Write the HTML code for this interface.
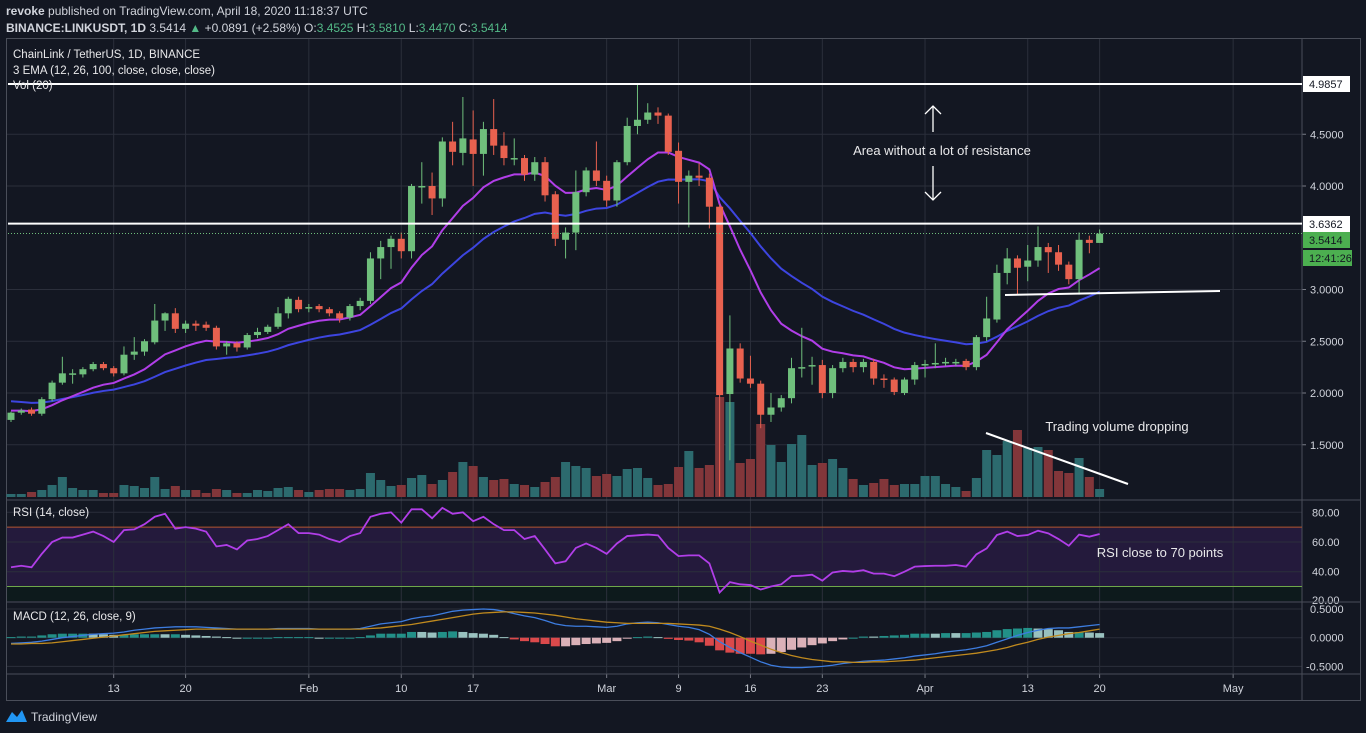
<!DOCTYPE html>
<html><head><meta charset="utf-8"><style>
html,body{margin:0;padding:0;background:#131722;width:1366px;height:733px;overflow:hidden;font-family:"Liberation Sans",sans-serif}
#hdr{position:absolute;left:0;top:0;width:1366px;height:38px;background:#131722;color:#d1d4dc;font-size:12px}
</style></head><body>
<div id="hdr">
<div style="position:absolute;left:6px;top:4px"><b>revoke</b> published on TradingView.com, April 18, 2020 11:18:37 UTC</div>
<div style="position:absolute;left:6px;top:21px"><b>BINANCE:LINKUSDT, 1D</b> 3.5414 <span style="color:#53b987">▲</span> +0.0891 (+2.58%) O:<span style="color:#53b987">3.4525</span> H:<span style="color:#53b987">3.5810</span> L:<span style="color:#53b987">3.4470</span> C:<span style="color:#53b987">3.5414</span></div>
</div>
<svg id="c" width="1366" height="733" style="position:absolute;left:0;top:0" font-family="Liberation Sans, sans-serif">
</svg>
<script>
const dayLabels=["13","20","Feb","10","17","Mar","9","16","23","Apr","13","20","May"];
const dayLabelIdx=[10,17,29,38,45,58,65,72,79,89,99,106,119];
const priceTicks=[1.5,2.0,2.5,3.0,4.0,4.5];
const opens=[1.74,1.81,1.84,1.80,1.94,2.10,2.19,2.18,2.23,2.28,2.24,2.19,2.37,2.40,2.49,2.70,2.77,2.62,2.67,2.66,2.63,2.45,2.48,2.44,2.56,2.59,2.64,2.77,2.90,2.83,2.84,2.81,2.77,2.73,2.84,2.89,3.30,3.41,3.49,3.37,4.00,4.00,3.88,4.43,4.32,4.45,4.31,4.55,4.39,4.27,4.27,4.11,4.23,3.92,3.48,3.55,3.94,4.15,4.05,3.86,4.23,4.58,4.64,4.71,4.68,4.34,4.04,4.10,4.08,3.80,1.99,2.43,2.14,2.09,1.79,1.86,1.95,2.24,2.27,2.27,2.00,2.24,2.30,2.25,2.30,2.14,2.13,2.00,2.13,2.27,2.28,2.29,2.30,2.31,2.25,2.54,2.71,3.16,3.30,3.22,3.28,3.41,3.36,3.24,3.10,3.48,3.45];
const closes=[1.81,1.83,1.80,1.94,2.10,2.19,2.19,2.23,2.28,2.24,2.19,2.37,2.40,2.50,2.70,2.77,2.62,2.67,2.65,2.63,2.45,2.48,2.44,2.56,2.59,2.64,2.77,2.91,2.81,2.83,2.81,2.77,2.72,2.84,2.89,3.30,3.41,3.49,3.37,4.00,4.00,3.88,4.43,4.33,4.46,4.31,4.55,4.39,4.27,4.27,4.11,4.23,3.91,3.49,3.55,3.94,4.15,4.05,3.86,4.23,4.58,4.64,4.71,4.68,4.33,4.04,4.10,4.08,3.80,1.98,2.43,2.14,2.09,1.79,1.86,1.95,2.24,2.25,2.27,2.00,2.24,2.30,2.25,2.30,2.14,2.13,2.01,2.13,2.27,2.28,2.29,2.30,2.30,2.25,2.54,2.72,3.16,3.30,3.21,3.28,3.41,3.36,3.24,3.10,3.48,3.45,3.54];
const highs=[1.82,1.85,1.86,1.96,2.12,2.35,2.23,2.25,2.30,2.30,2.26,2.45,2.54,2.52,2.86,2.78,2.82,2.70,2.70,2.69,2.65,2.50,2.50,2.58,2.63,2.66,2.83,2.93,2.93,2.86,2.86,2.83,2.79,2.86,2.92,3.36,3.47,3.52,3.55,4.02,4.23,4.13,4.47,4.62,4.86,4.73,4.62,4.84,4.52,4.46,4.30,4.28,4.28,3.95,3.60,4.15,4.18,4.43,4.10,4.25,4.66,4.98,4.80,4.76,4.70,4.42,4.15,4.22,4.12,3.82,2.75,2.48,2.36,2.12,2.00,1.98,2.34,2.63,2.35,2.32,2.27,2.34,2.33,2.33,2.33,2.18,2.15,2.15,2.30,2.32,2.48,2.34,2.33,2.33,2.56,2.93,3.24,3.40,3.33,3.43,3.61,3.45,3.43,3.27,3.55,3.52,3.58];
const lows=[1.72,1.79,1.78,1.78,1.92,2.08,2.09,2.15,2.21,2.22,2.16,2.17,2.32,2.36,2.47,2.60,2.58,2.58,2.60,2.60,2.42,2.37,2.40,2.42,2.53,2.57,2.62,2.72,2.78,2.78,2.78,2.74,2.68,2.70,2.80,2.86,3.10,3.20,3.30,3.30,3.83,3.72,3.80,4.20,4.20,4.00,4.10,4.30,4.20,4.20,4.05,4.05,3.85,3.42,3.30,3.38,3.90,4.00,3.80,3.80,4.20,4.50,4.60,4.60,4.30,3.83,3.60,4.00,3.59,1.00,1.35,2.10,2.05,1.66,1.72,1.82,1.90,2.15,2.08,1.95,1.95,2.20,2.20,2.20,2.08,2.05,1.98,1.98,2.08,2.15,2.24,2.26,2.26,2.22,2.22,2.50,2.68,3.05,2.95,3.08,3.22,3.16,3.18,3.05,2.95,3.35,3.45];
const volumes=[3,3,5,7,12,20,9,7,7,4,4,12,11,9,20,8,11,7,7,4,8,7,4,4,7,6,9,10,7,5,7,8,8,7,8,24,17,11,12,19,22,13,17,25,35,31,20,17,18,13,12,10,15,20,35,31,29,21,23,21,28,29,19,12,13,30,46,29,32,100,95,34,38,73,52,35,53,62,32,34,38,29,18,12,14,18,12,13,13,21,21,13,10,6,19,47,42,56,67,49,50,47,26,24,39,20,8];
const rsi=[43,44,43,52,60,63,63,65,67,64,60,68,68.5,72,77,79,69,70,69,67,57,58,55,61,62,64,68,72,66,66,65,62,60,64,66,77,79,80,73,82,82,76,83,79,80,74,77,72,68,68,62,64,55,45.6,47,56,59,56,52,59,64,64.5,65,64.5,56,50.5,51,51,45.6,26,33,31.5,31,28,30,31.5,37,37.3,38,34,39.5,40.5,40,41,38.7,38.7,37,40,43.4,43.8,44,44,44.5,43.4,51.7,55.7,64.7,67,64,64.7,67.6,65.8,62,57.5,65,63.6,65.4];
const macd=[-0.10,-0.09,-0.08,-0.06,-0.03,0.00,0.02,0.04,0.06,0.07,0.08,0.10,0.13,0.15,0.17,0.18,0.19,0.19,0.19,0.18,0.17,0.16,0.15,0.15,0.15,0.15,0.16,0.16,0.16,0.16,0.15,0.15,0.15,0.15,0.16,0.20,0.24,0.26,0.28,0.33,0.36,0.38,0.42,0.46,0.48,0.49,0.50,0.49,0.46,0.42,0.38,0.35,0.30,0.24,0.21,0.20,0.20,0.19,0.18,0.20,0.24,0.26,0.27,0.26,0.23,0.20,0.18,0.14,0.06,-0.07,-0.17,-0.26,-0.34,-0.42,-0.48,-0.51,-0.52,-0.52,-0.51,-0.50,-0.48,-0.45,-0.43,-0.41,-0.40,-0.39,-0.37,-0.35,-0.32,-0.30,-0.28,-0.25,-0.23,-0.21,-0.18,-0.14,-0.08,-0.02,0.04,0.09,0.13,0.16,0.17,0.17,0.19,0.21,0.23];
const signal=[-0.11,-0.11,-0.10,-0.10,-0.09,-0.07,-0.05,-0.03,-0.01,0.01,0.03,0.05,0.07,0.09,0.11,0.12,0.13,0.14,0.15,0.15,0.15,0.15,0.15,0.15,0.15,0.15,0.15,0.15,0.15,0.15,0.15,0.15,0.15,0.15,0.15,0.16,0.17,0.19,0.21,0.23,0.26,0.29,0.32,0.35,0.38,0.41,0.43,0.44,0.45,0.45,0.44,0.43,0.41,0.39,0.36,0.33,0.31,0.29,0.27,0.26,0.25,0.25,0.25,0.25,0.25,0.24,0.23,0.22,0.20,0.15,0.09,0.02,-0.06,-0.13,-0.20,-0.26,-0.31,-0.35,-0.38,-0.40,-0.42,-0.42,-0.43,-0.43,-0.42,-0.42,-0.41,-0.40,-0.39,-0.37,-0.35,-0.33,-0.31,-0.29,-0.27,-0.24,-0.21,-0.17,-0.12,-0.08,-0.03,0.01,0.04,0.07,0.09,0.12,0.15];

const NS="http://www.w3.org/2000/svg";
const svg=document.getElementById('c');
function mk(tag,attrs,parent){const e=document.createElementNS(NS,tag);for(const k in attrs)e.setAttribute(k,attrs[k]);(parent||svg).appendChild(e);return e;}
const X=i=>11+i*10.27;
const Y=p=>393-(p-2)*103.5;
const YR=v=>571.7-(v-40)*1.485;
const YM=v=>637.7-v*57.4;
const VB=497, VS=1.0;
const GREEN="#6fbf7c", RED="#e8614f";

// frame
let fr=mk('rect',{x:6.5,y:38.5,width:1354,height:662,fill:'#131722',stroke:'#4a4e59'});

// rsi band
let band=mk('rect',{x:7,y:YR(70),width:1295,height:YR(30)-YR(70),fill:'#241a3c'});

mk('rect',{x:7,y:YR(30),width:1295,height:601-YR(30),fill:'#0d1a1c'});
// grid
dayLabelIdx.forEach((d,k)=>{const x=X(d);
 const g=mk('line',{x1:x,x2:x,y1:39,y2:674,stroke:'#2b2f3b'});
 
 const t=mk('text',{x:x,y:692,fill:'#d1d4dc','font-size':11,'text-anchor':'middle'});t.textContent=dayLabels[k];
 
 mk('line',{x1:x,x2:x,y1:674,y2:678,stroke:'#787b86'});
});
priceTicks.forEach(p=>{const y=Y(p);
 const g=mk('line',{x1:7,x2:1302,y1:y,y2:y,stroke:'#2b2f3b'});
 
 const t=mk('text',{x:1310,y:y+4,fill:'#d1d4dc','font-size':11});t.textContent=p.toFixed(4);
 
 mk('line',{x1:1302,x2:1306,y1:y,y2:y,stroke:'#787b86'});
});
[80,60,40].forEach(v=>{const y=YR(v);mk('line',{x1:7,x2:1302,y1:y,y2:y,stroke:'#2b2f3b'});
 const t=mk('text',{x:1312,y:y+4,fill:'#d1d4dc','font-size':11});t.textContent=v.toFixed(2);
 });
{const t=mk('text',{x:1312,y:604,fill:'#d1d4dc','font-size':11});t.textContent='20.00';}
[0.5,0,-0.5].forEach(v=>{const y=YM(v);mk('line',{x1:7,x2:1302,y1:y,y2:y,stroke:'#2b2f3b'});
 const t=mk('text',{x:v<0?1306:1310,y:y+4,fill:'#d1d4dc','font-size':11});t.textContent=v.toFixed(4);
 });
// separators
[[7,1360,500,500],[7,1360,602,602],[7,1360,674,674],[1302,1302,39,700]].forEach(a=>mk('line',{x1:a[0],x2:a[1],y1:a[2],y2:a[3],stroke:'#4a4e59'}));
mk('line',{x1:7,x2:1302,y1:YR(70),y2:YR(70),stroke:'#b5562f'});
mk('line',{x1:7,x2:1302,y1:YR(30),y2:YR(30),stroke:'#6ea84a'});

// volume
volumes.forEach((v,i)=>{const up=closes[i]>=opens[i];
 const r=mk('rect',{x:X(i)-4.5,y:VB-v*VS,width:9,height:v*VS,fill:up?'#2c6a6e':'#82363a'});
 });

// EMAs
function ema(seed,n){const a=2/(n+1);let e=seed;return closes.map((c,i)=>{if(i>0)e=e+a*(c-e);return e;});}
const e12=ema(1.83,12), e26=ema(1.92,26);
[[e26,'#3d45e0','ema-26-line'],[e12,'#b13ee8','ema-12-line']].forEach(([arr,col,nm])=>{
 const p=mk('polyline',{points:arr.map((v,i)=>X(i)+','+Y(v)).join(' '),fill:'none',stroke:col,'stroke-width':2});
 });

// candles
closes.forEach((c,i)=>{const o=opens[i];const up=c>=o;const col=up?GREEN:RED;const x=X(i);
 const w=mk('line',{x1:x,x2:x,y1:Y(highs[i]),y2:Y(lows[i]),stroke:col,'stroke-width':1});
 
 const top=Y(Math.max(o,c)),h=Math.max(1.5,Math.abs(Y(o)-Y(c)));
 const b=mk('rect',{x:x-3.5,y:top,width:7,height:h,fill:col});
 });

// RSI
{const p=mk('polyline',{points:rsi.map((v,i)=>X(i)+','+YR(v)).join(' '),fill:'none',stroke:'#b13ee8','stroke-width':1.8});
 }
// MACD histogram
macd.forEach((m,i)=>{const h=m-signal[i];const prev=i>0?macd[i-1]-signal[i-1]:h;
 let col=h>=0?(h>=prev?'#26a69a':'#b2dfdb'):(h<=prev?'#ff5252':'#ffcdd2');
 const y0=YM(0),y1=YM(h);
 const r=mk('rect',{x:X(i)-4.5,y:Math.min(y0,y1),width:9,height:Math.max(1,Math.abs(y1-y0)),fill:col,opacity:0.85});
 });
{const p=mk('polyline',{points:macd.map((v,i)=>X(i)+','+YM(v)).join(' '),fill:'none',stroke:'#3d7de0','stroke-width':1.3});
 
 const s=mk('polyline',{points:signal.map((v,i)=>X(i)+','+YM(v)).join(' '),fill:'none',stroke:'#c08a1e','stroke-width':1.3});
 }

// level lines
[[4.9857,'resistance-line-top'],[3.6362,'resistance-line']].forEach(([p,nm])=>{
 const l=mk('line',{x1:8,x2:1302,y1:Y(p),y2:Y(p),stroke:'#ffffff','stroke-width':2});
 });
{const l=mk('line',{x1:8,x2:1302,y1:Y(3.5414),y2:Y(3.5414),stroke:'#6fbf7c','stroke-dasharray':'1 2'});
 }
{const l=mk('line',{x1:1005,x2:1220,y1:295,y2:291,stroke:'#ffffff','stroke-width':2});
 
 const v=mk('line',{x1:986,x2:1128,y1:433,y2:484,stroke:'#ffffff','stroke-width':2});
 }
// arrows
[[933,132,106,'arrow-up'],[933,166,200,'arrow-down']].forEach(([x,y1,y2,nm])=>{
 const g=mk('g',{stroke:'#fff','stroke-width':1.3,fill:'none'});
 
 mk('line',{x1:x,x2:x,y1:y1,y2:y2},g);const d=y2<y1?8:-8;
 mk('polyline',{points:`${x-8},${y2+d} ${x},${y2} ${x+8},${y2+d}`},g);});
// price labels
function plabel(y,txt,bg,fg,nm,w){const r=mk('rect',{x:1303,y:y-8,width:w||47,height:16,fill:bg});
 
 const t=mk('text',{x:1309,y:y+4,fill:fg,'font-size':11});t.textContent=txt;}
plabel(84,'4.9857','#ffffff','#131722','label-4-9857');
plabel(224,'3.6362','#ffffff','#131722','label-3-6362');
plabel(240,'3.5414','#4caf50','#131722','label-last-price');
plabel(258,'12:41:26','#4caf50','#131722','label-countdown',49);
// texts
function txt(x,y,s,size,nm,anchor){const t=mk('text',{x:x,y:y,fill:'#e8e8ea','font-size':size,'text-anchor':anchor||'start'});t.textContent=s;
 }
txt(13,58,'ChainLink / TetherUS, 1D, BINANCE',11.5,'chart-title');
txt(13,74,'3 EMA (12, 26, 100, close, close, close)',11.5,'ema-legend');
txt(13,89,'Vol (20)',11.5,'volume-legend');
txt(13,516,'RSI (14, close)',11.5,'rsi-legend');
txt(13,620,'MACD (12, 26, close, 9)',11.5,'macd-legend');
txt(942,155,'Area without a lot of resistance',13,'annotation-resistance','middle');
txt(1117,431,'Trading volume dropping',13,'annotation-volume','middle');
txt(1160,557,'RSI close to 70 points',13,'annotation-rsi','middle');
// footer logo
{const g=mk('g',{});
 mk('path',{d:'M6 722 L12 712 L17 717 L22 710 L27 722 Z',fill:'#2196f3'},g);
 const t=mk('text',{x:31,y:721,fill:'#d1d4dc','font-size':12},g);t.textContent='TradingView';}
</script>
</body></html>
